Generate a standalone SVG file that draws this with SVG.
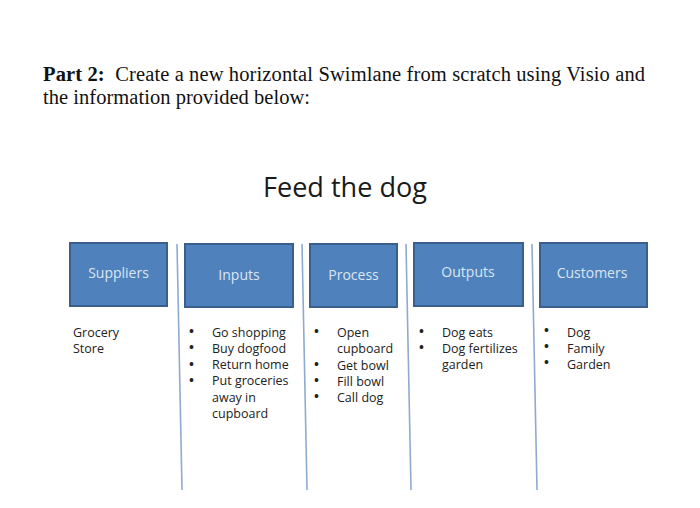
<svg xmlns="http://www.w3.org/2000/svg" width="700" height="508" viewBox="0 0 700 508">
<style>
.intro{font-family:"Liberation Serif","Times New Roman",serif;font-size:20.5px;fill:#111}
.title{font-family:"Open Sans","Noto Sans",sans-serif;font-size:27px;font-weight:500;fill:#1a1a1a}
.box{fill:#4f81bd;stroke:#3a5f8c;stroke-width:2}
.lbl{font-family:"Open Sans","Noto Sans",sans-serif;font-size:14px;fill:#dce6f2;text-anchor:middle}
.item{font-family:"Open Sans","Noto Sans",sans-serif;font-size:12.5px;fill:#222}
.bul{font-family:"Open Sans","Noto Sans",sans-serif;font-size:13px;font-weight:bold;fill:#222}
.sep{stroke:#8faad0;stroke-width:1.6;fill:none}
</style>
<rect width="700" height="508" fill="#ffffff"/>
<text class="intro" x="43" y="81" xml:space="preserve" textLength="602"><tspan font-weight="bold">Part 2:</tspan>  Create a new horizontal Swimlane from scratch using Visio and</text>
<text class="intro" x="43" y="103.5" textLength="267">the information provided below:</text>
<text class="title" x="263" y="197" textLength="164" lengthAdjust="spacingAndGlyphs">Feed the dog</text>
<g id="connectors">
<line class="sep" x1="177" y1="244" x2="182" y2="490"/>
<line class="sep" x1="302" y1="244" x2="307" y2="490"/>
<line class="sep" x1="406" y1="244" x2="411" y2="490"/>
<line class="sep" x1="532" y1="244" x2="537" y2="490"/>
</g>
<g id="suppliers">
<rect class="box" x="70" y="243" width="97" height="63"/>
<text class="lbl" x="118.5" y="278">Suppliers</text>
<text class="item" x="73" y="336.5">Grocery</text>
<text class="item" x="73" y="352.8">Store</text>
</g>
<g id="inputs">
<rect class="box" x="185" y="244" width="108" height="63"/>
<text class="lbl" x="239" y="280">Inputs</text>
<text class="bul" x="189" y="336">•</text>
<text class="bul" x="189" y="352.3">•</text>
<text class="bul" x="189" y="368.6">•</text>
<text class="bul" x="189" y="384.9">•</text>
<text class="item" x="212" y="336.5">Go shopping</text>
<text class="item" x="212" y="352.8">Buy dogfood</text>
<text class="item" x="212" y="369.1">Return home</text>
<text class="item" x="212" y="385.4">Put groceries</text>
<text class="item" x="212" y="401.7">away in</text>
<text class="item" x="212" y="418">cupboard</text>
</g>
<g id="process">
<rect class="box" x="310" y="244" width="87" height="63"/>
<text class="lbl" x="353.5" y="280">Process</text>
<text class="bul" x="314" y="336">•</text>
<text class="bul" x="314" y="368.6">•</text>
<text class="bul" x="314" y="384.9">•</text>
<text class="bul" x="314" y="401.2">•</text>
<text class="item" x="337" y="337">Open</text>
<text class="item" x="337" y="353.3">cupboard</text>
<text class="item" x="337" y="369.6">Get bowl</text>
<text class="item" x="337" y="385.9">Fill bowl</text>
<text class="item" x="337" y="402.2">Call dog</text>
</g>
<g id="outputs">
<rect class="box" x="414" y="243" width="109" height="63"/>
<text class="lbl" x="468" y="277">Outputs</text>
<text class="bul" x="419" y="335.5">•</text>
<text class="bul" x="419" y="351.8">•</text>
<text class="item" x="442" y="336.5">Dog eats</text>
<text class="item" x="442" y="352.8">Dog fertilizes</text>
<text class="item" x="442" y="369.1">garden</text>
</g>
<g id="customers">
<rect class="box" x="540" y="243" width="107" height="64"/>
<text class="lbl" x="592" y="278">Customers</text>
<text class="bul" x="544" y="334.5">•</text>
<text class="bul" x="544" y="350.8">•</text>
<text class="bul" x="544" y="367.1">•</text>
<text class="item" x="567" y="336.5">Dog</text>
<text class="item" x="567" y="352.8">Family</text>
<text class="item" x="567" y="369.1">Garden</text>
</g>
</svg>
